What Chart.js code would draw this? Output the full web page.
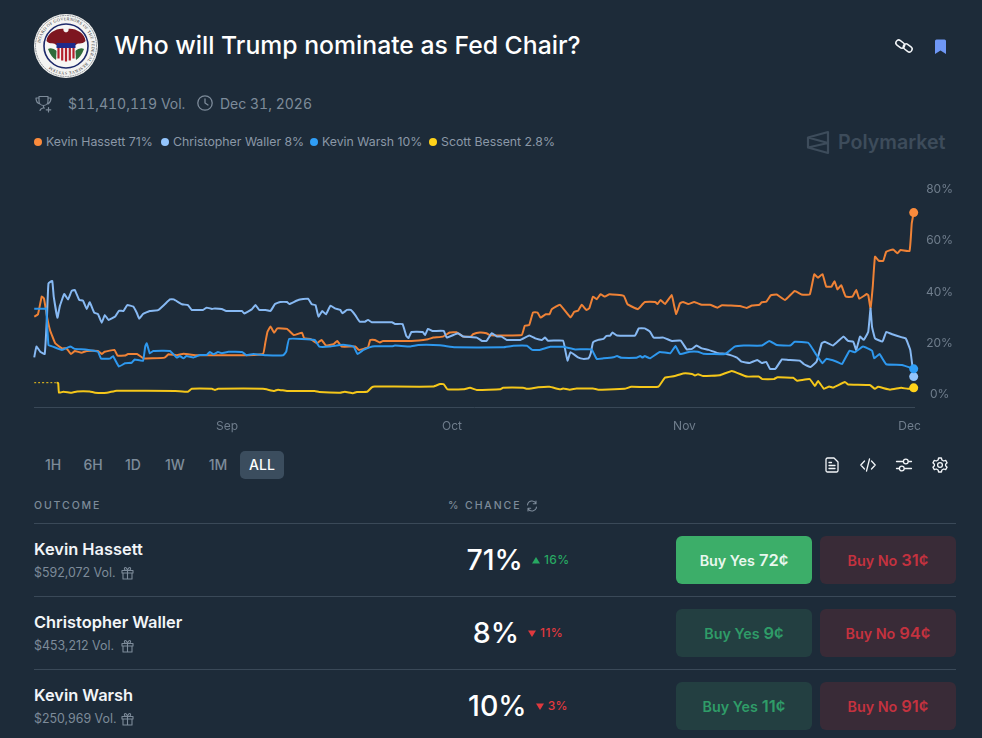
<!DOCTYPE html>
<html>
<head>
<meta charset="utf-8">
<title>Who will Trump nominate as Fed Chair?</title>
<script src="https://cdn.jsdelivr.net/npm/chart.js@4"></script>
<style>
  html, body { margin: 0; padding: 0; background: #1d2b39; }
  body { width: 982px; height: 738px; position: relative; overflow: hidden; font-family: Inter, "Noto Sans", sans-serif; color: #fff; }
  .abs { position: absolute; white-space: nowrap; line-height: 1; }
  svg.abs { overflow: visible; fill: none; stroke-linecap: round; stroke-linejoin: round; }
  #title { left: 114px; top: 33px; font-size: 24.75px; font-weight: 500; color: #fff; }
  .meta { top: 96.5px; font-size: 14px; color: #7d8b9a; font-variant-numeric: tabular-nums; font-feature-settings: "tnum"; }
  .legend { top: 135.5px; font-size: 12.3px; color: #8b98a7; }
  .dot { position: absolute; top: 138px; width: 8px; height: 8px; border-radius: 50%; }
  #brand { left: 838px; top: 132.5px; font-size: 19.6px; font-weight: 600; color: #3d4c5b; }
  #chartbox { position: absolute; left: 0; top: 150px; width: 982px; height: 290px; }
  .range { top: 458px; width: 40px; text-align: center; font-size: 14px; font-weight: 500; color: #7d8b9a; }
  #allbtn { position: absolute; left: 240px; top: 451px; width: 44px; height: 28px; border-radius: 5px; background: #3b4d5e; }
  .head { top: 500.5px; font-size: 10.5px; letter-spacing: 1.9px; font-weight: 500; color: #7d8b9a; }
  .rule { position: absolute; left: 34px; width: 922px; height: 1px; background: #3a4958; }
  .name { left: 34px; font-size: 16.4px; font-weight: 600; color: #f2f5f8; }
  .vol { left: 34px; font-size: 12.4px; color: #7d8b9a; }
  .pctgroup { position: absolute; left: 418px; width: 200px; height: 32px; display: flex; justify-content: center; align-items: center; gap: 9px; }
  .pct { font-size: 28.5px; font-weight: 500; color: #fff; line-height: 1; }
  .delta { font-size: 12px; font-weight: 500; letter-spacing: .4px; line-height: 1; }
  .btn { position: absolute; width: 136px; height: 48px; border-radius: 6px; display: flex; justify-content: center; align-items: center; gap: 4px; font-size: 14.3px; font-weight: 600; }
  .btn b { font-size: 16.5px; font-weight: 600; }
</style>
</head>
<body>

<svg class="abs" style="left:34px;top:14px" width="64" height="64" viewBox="0 0 64 64">
  <circle cx="32" cy="32" r="32" fill="#f4f4f2"/>
  <circle cx="32" cy="32" r="30.5" stroke="#8a8f96" stroke-width="1" stroke-dasharray="1 1.5"/>
  <defs><path id="ring" d="M32 32 m-25.8 0 a25.8 25.8 0 1 1 51.6 0 a25.8 25.8 0 1 1 -51.6 0"/></defs>
  <text font-size="4.3" font-family="Liberation Serif, serif" fill="#333" stroke="none" letter-spacing=".25"><textPath href="#ring" startOffset="3">BOARD OF GOVERNORS OF THE FEDERAL RESERVE SYSTEM</textPath></text>
  <circle cx="32" cy="32" r="22" fill="#f7f7f5" stroke="#1d2a6b" stroke-width="1.6"/>
  <path d="M12.5 27 C13 19 23 14 30 15 L32 19 L34 15 C41 14 51 19 51.5 27 C48 31 43 28 42 31 H22 C21 28 16 31 12.5 27Z" fill="#7d1620" stroke="none"/>
  <path d="M14 35 q3 8 8 11 l1 -9 q-5 -4 -9 -2Z M50 35 q-3 8 -8 11 l-1 -9 q5 -4 9 -2Z" fill="#2e6b3a" stroke="none"/>
  <rect x="22.5" y="29" width="19" height="5" fill="#1d2a8b" stroke="none"/>
  <path d="M22.5 34 H41.5 V43 Q32 50 22.5 43Z" fill="#f4f4f2" stroke="none"/>
  <path d="M24.5 34 V44.5 M28.2 34 V46.5 M32 34 V47.5 M35.8 34 V46.5 M39.5 34 V44.5" stroke="#b3202c" stroke-width="2.2" stroke-linecap="butt"/>
  <circle cx="32" cy="15.5" r="2.6" fill="#f4f4f2" stroke="none"/>
</svg>

<div id="title" class="abs">Who will Trump nominate as Fed Chair?</div>

<svg class="abs" style="left:896px;top:38px" width="16" height="16" viewBox="0 0 16 16" stroke="#f2f5f8" stroke-width="1.5">
  <rect x="-0.5" y="3.2" width="9.5" height="5.6" rx="2.8" transform="rotate(38 4.2 6)"/>
  <rect x="7" y="7.2" width="9.5" height="5.6" rx="2.8" transform="rotate(38 11.8 10)"/>
</svg>
<svg class="abs" style="left:934px;top:39px" width="13" height="16" viewBox="0 0 13 16">
  <path d="M1 2 a1.5 1.5 0 0 1 1.5 -1.5 h8 a1.5 1.5 0 0 1 1.5 1.5 V15 L6.5 11.5 L1 15Z" fill="#6f97f5"/>
</svg>

<svg class="abs" style="left:35px;top:95px" width="18" height="18" viewBox="0 0 18 18" stroke="#7d8b9a" stroke-width="1.2">
  <path d="M4 1.5 H13 V6 a4.5 4.5 0 0 1 -9 0Z M4 3 H1 q0 5 4 6 M13 3 H16 q0 4 -3 6 M8.5 10.5 V13 M5 15.5 q1 -2.5 3.5 -2.5 h1 M13.5 12.5 V17 M11.2 14.8 H15.8"/>
</svg>
<div class="abs meta" style="left:68px">$11,410,119 Vol.</div>
<svg class="abs" style="left:197px;top:95px" width="16" height="16" viewBox="0 0 16 16" stroke="#7d8b9a" stroke-width="1.3">
  <circle cx="8" cy="8" r="7.2"/><path d="M8 3.8 V8 L11 10"/>
</svg>
<div class="abs meta" style="left:220px">Dec 31, 2026</div>

<div id="legendbox"></div>

<svg class="abs" style="left:806px;top:130px" width="24" height="25" viewBox="0 0 24 25" stroke="#3d4c5b" stroke-width="2.2">
  <path d="M22 2 V23 L2 17.5 V7.5Z M2 7.5 L22 13 M2 17.5 L22 13"/>
</svg>
<div id="brand" class="abs">Polymarket</div>

<div id="chartbox"><canvas id="mycanvas" width="982" height="290"></canvas></div>

<div id="allbtn"></div>
<div id="rangebox"></div>

<svg class="abs" style="left:824px;top:457px" width="16" height="16" viewBox="0 0 16 16" stroke="#f2f5f8" stroke-width="1.3">
  <path d="M2 2.5 a1.5 1.5 0 0 1 1.5 -1.5 H10 L14 5 V13.5 a1.5 1.5 0 0 1 -1.5 1.5 H3.5 A1.5 1.5 0 0 1 2 13.5Z M5 5.5 H7.5 M5 8.5 H11 M5 11.5 H11"/>
</svg>
<svg class="abs" style="left:860px;top:458px" width="16" height="14" viewBox="0 0 16 14" stroke="#f2f5f8" stroke-width="1.3">
  <path d="M4.5 3 L0.8 7 L4.5 11 M11.5 3 L15.2 7 L11.5 11 M9.5 1 L6.5 13"/>
</svg>
<svg class="abs" style="left:896px;top:457px" width="16" height="16" viewBox="0 0 16 16" stroke="#f2f5f8" stroke-width="1.3">
  <path d="M0.5 4.5 H7 M12.5 4.5 H15.5 M0.5 11.5 H3 M8.5 11.5 H15.5"/>
  <circle cx="9.8" cy="4.5" r="2.4"/><circle cx="5.8" cy="11.5" r="2.4"/>
</svg>
<svg class="abs" style="left:932px;top:457px" width="16" height="16" viewBox="0 0 16 16" stroke="#f2f5f8" stroke-width="1.3">
  <path d="M6.6 1 H9.4 L9.9 3 L11.7 4 L13.7 3.4 L15.1 5.8 L13.6 7.2 V8.8 L15.1 10.2 L13.7 12.6 L11.7 12 L9.9 13 L9.4 15 H6.6 L6.1 13 L4.3 12 L2.3 12.6 L0.9 10.2 L2.4 8.8 V7.2 L0.9 5.8 L2.3 3.4 L4.3 4 L6.1 3 Z"/>
  <circle cx="8" cy="8" r="2.4"/>
</svg>

<div class="abs head" style="left:34px">OUTCOME</div>
<div class="abs head" style="left:448px">% CHANCE</div>
<svg class="abs" style="left:526px;top:500px" width="12" height="12" viewBox="0 0 12 12" stroke="#7d8b9a" stroke-width="1.1">
  <path d="M1.5 5 A4.5 4.5 0 0 1 10 3.5 M10.5 7 A4.5 4.5 0 0 1 2 8.5 M10 1 V3.8 H7.3 M2 11 V8.2 H4.7"/>
</svg>
<div class="rule" style="top:523px"></div>

<div id="rowbox"></div>

<script>
// legend + table
var outcomes = ["Kevin Hassett", "Christopher Waller", "Kevin Warsh", "Scott Bessent"];
var legendPct = ["71%", "8%", "10%", "2.8%"];
var legendLeft = [46, 173, 322, 441];
var colors = ["#ef8236", "#87b9f3", "#2e98ee", "#f5c71a"];
var dotColors = ["#fb8b3c", "#93c5fd", "#2f9ef7", "#ffd21a"];

var rangeLabels = ["1H", "6H", "1D", "1W", "1M", "ALL"];
var rangeCenters = [53, 93, 133, 175, 218, 262];

var rowNames = ["Kevin Hassett", "Christopher Waller", "Kevin Warsh"];
var rowVols = ["$592,072 Vol.", "$453,212 Vol.", "$250,969 Vol."];
var rowPct = ["71%", "8%", "10%"];
var rowDelta = ["16%", "11%", "3%"];
var rowUp = [true, false, false];
var rowYes = ["72¢", "9¢", "11¢"];
var rowNo = ["31¢", "94¢", "91¢"];

// chart data, x = days from Sep 1
var monthLabels = ["Sep", "Oct", "Nov", "Dec"];
var monthDays = [0, 30, 61, 91];
var yTicks = [0, 20, 40, 60, 80];

var hassettDays = [-25.7,-25.2,-24.7,-24.4,-24,-23.6,-22.9,-22,-21.4,-20.8,-20.3,-19.4,-18.7,-17.2,-16.7,-16.3,-15,-14.6,-13.6,-13.2,-12,-11.1,-10,-8.3,-7.8,-6.7,-5.8,-4,-1.8,2,4.8,5.1,5.4,5.8,6.3,6.7,8,8.9,10,10.3,11.1,12,12.6,13.2,14.2,14.7,15.3,17.1,17.6,18.8,19.1,19.7,20.4,20.8,24.6,26.8,27.5,28.8,29.7,30.6,31.5,32.5,32.8,33.7,34.6,35.1,39.3,39.7,40.3,40.8,41.4,41.8,42.5,43,43.3,44.4,45.8,46.3,46.8,47.3,47.9,48.3,48.8,49.3,49.8,50.4,51,52.9,53.4,54.8,55.4,55.7,57.1,57.4,57.8,58.4,59.3,59.6,59.9,60.4,60.8,61.5,62.3,63.3,64.4,65.4,66,68.4,69.3,70,71,71.3,71.9,72.5,73.3,74.4,75.7,76.6,77.7,78.3,78.8,79.4,79.9,80.6,81,81.4,81.9,82.5,83.4,83.9,84.3,85.3,85.5,85.8,86.1,86.4,86.9,87.5,87.9,88.8,89.4,89.8,91,91.3,91.56];
var hassettVals = [30.4,31.3,38.2,37.5,30.4,25.2,20,18,18,15.8,17,16.3,17,17,15.8,16.7,17.4,15.2,15.2,15.8,15.8,14.1,14.1,14.4,15.7,15.3,15.9,15.3,15.3,15.3,15.8,20,24.5,26.5,24.1,25.8,25.6,23.2,24.1,21.9,21.7,20,21.3,19.1,19.6,20.9,18.7,18.7,17.4,18.4,21.3,21.3,20.3,20.9,20.9,21.6,22.2,22.6,24.2,24.3,22.6,22.6,23.5,24.2,23.9,23.1,23.2,26.8,27.1,32,32,30,31.3,31.3,33.3,35,30.1,32.3,32.7,35,33,33.6,38.2,37.2,39.1,38.2,39.1,38.5,35.2,33.3,35.2,36.1,36.1,35.3,36.9,35.3,38.8,34.9,31.4,35.6,36.1,35.3,36.1,35,35,33.9,34.8,34.5,33.8,34.7,35,36,36.2,38.7,39,36.9,40.4,39,39,46.9,45.6,47,42.1,42.1,44.2,41,42.6,38.2,38.2,40.8,37.4,39.2,38.8,33.6,42.1,53.8,52.2,52.2,55.7,56.6,55.1,56.4,56,66.8,71];

var wallerDays = [-25.7,-25.4,-24.9,-24.3,-24,-23.8,-23.3,-23.1,-22.6,-22.3,-21.7,-21.2,-20.7,-20.3,-19.7,-19.2,-18.7,-18.3,-17.7,-17.2,-16.7,-16.3,-15.8,-14.9,-14.4,-13.8,-13.3,-12.5,-12,-11.7,-11.2,-10.3,-9.2,-8.3,-7.6,-7.1,-6,-5.2,-4.7,-3.2,-2.7,-2,-1.6,-0.7,-0.1,2,2.3,3.3,3.8,4.3,5.1,5.8,6.4,7.1,8,8.3,9.5,10.8,11.3,11.8,12.2,12.7,13.2,13.8,14.4,15.1,15.4,16,16.5,17.1,17.7,18.4,18.8,19.3,22,22.4,23.4,23.9,24.2,24.6,26.1,26.4,26.8,27.4,28.9,29.3,30.8,31.5,33.3,34,34.6,35.3,36,36.6,37.3,39.1,40.3,41.1,42,42.4,42.8,44.8,45.1,45.4,45.8,46.8,47.5,48.2,48.5,48.8,49.5,50.2,50.6,51.1,51.4,52,54.4,54.9,55.7,56.4,56.9,58.2,59.3,60.5,61.3,62,62.6,63.3,64.2,65.5,66.6,68,68.6,69.7,70.7,71.3,71.9,72.4,73.1,74,74.8,76.4,76.9,77.8,78.6,79.3,79.7,80.8,82.2,82.8,83.5,83.9,84.4,84.9,85.5,85.8,86,86.4,87.4,87.9,88.6,90,90.5,91.1,91.56];
var wallerVals = [14.5,18.7,16.7,15.8,30.4,43.4,44.3,38.2,30,34.3,39.2,37.1,40.5,40.8,36.9,36.6,33.4,36,31.9,31.4,28,31,29.1,30.4,32.7,32.6,34.9,34.3,31.7,29.6,31.4,32.6,32.9,35.2,37.1,37.1,35.2,34.9,33,33,33.9,33.4,33.6,33.4,32.6,32.6,31.6,33.2,34.9,33,33,32.6,35.3,36.1,36.1,35.3,36.9,37.4,35.2,34.9,30.4,32.6,31.3,34.7,33.6,33,31.7,33,33,31,28.4,28.4,29.1,28.2,28.2,27.5,27.5,22.9,22,24.4,24.4,23.2,25.6,24.8,24.8,22.2,23.9,22.6,22.2,20.9,20.9,23.9,22.6,22.6,21.3,21.3,23,21.9,21.3,22.2,21,21,17.4,13.2,16.5,14.5,13.9,14.1,16.1,20.3,21.3,21.7,22.9,23,24.2,23,23,25.8,25.8,24.5,22.2,22.2,20.9,21,17.6,17.8,19.1,18,17.4,16.1,15.8,14.4,12.8,12.3,13.5,12.3,12.7,10,10,13.7,13.5,13.2,11.9,10.7,12.8,20,20.6,19.1,22.6,20.9,20.6,17.4,22.6,21.3,24.5,33.6,26.5,21.9,20.7,24.4,23.6,22.3,21.9,17.4,7];

var warshDays = [-25.7,-24.3,-24.1,-23.8,-23.2,-22,-20.9,-20.3,-18.9,-17.2,-16.8,-15.6,-15.2,-14.4,-13.6,-12.7,-12.3,-11.2,-10.9,-10.7,-10.3,-9.8,-7.6,-6.7,-6.3,-5.8,-5.4,-4.5,-3.6,-2.7,-2.3,-1.8,-1.2,-0.7,0.2,2,2.6,3.5,5.3,7.5,7.9,8.3,11.7,12.3,13.7,15.5,16.9,17.4,18.2,19,19.7,22,22.4,24.4,25.5,28.4,30.4,36.8,38.2,40,40.7,41.7,43.1,44.8,46.4,48.6,49.3,50.2,51.5,52,52.6,54.6,55.1,55.4,55.7,56.4,57.7,59.1,59.8,60.4,61.7,62.8,63.5,66.4,67.7,68.9,71.3,72.3,73.3,75.1,75.7,77.5,78.6,79.4,79.9,81.3,82,83,83.7,84.8,86,86.3,87,87.9,90,91.56];
var warshVals = [33.5,33.5,33.6,19.3,18.7,17.4,18.7,17.8,17.6,16.7,14,14,15,10.9,12.2,12.4,13.7,13.1,18.7,20,16.1,17,17,14.4,15,14.1,15,14.4,15.4,15.4,16.6,15.7,16.6,16.1,16.7,16.6,15.3,15.8,15.3,15.3,16.7,21.7,21.3,18.7,18.7,19.4,18.7,15.8,17.4,18.4,18.8,18.8,19.1,18.7,19.3,19.2,18.4,18.4,19,19,17.4,17.4,18.6,18.6,17.6,17.6,13.9,14.1,14.5,15,14.3,14.3,15,14.4,15,14.1,16.6,16.1,18.9,15.8,16.7,16.7,15.9,15.8,18.7,19.1,19.1,20.9,19.3,19.1,20.6,20.2,15.4,12.2,13.9,12.8,11.9,17.1,16.5,18.7,17.1,14.1,15.8,11.8,11.5,10];

var bessentDays = [-25.7,-22.7,-22.5,-22.4,-21.8,-20.7,-20,-18.3,-17.6,-16,-14.7,-6.9,-5.2,-4.7,-2,-1.6,-1.2,4.8,6.3,6.8,8,11.7,12.3,15.1,15.7,16.8,17.3,18.7,19.3,19.7,27.5,28.4,28.9,29.4,31.5,32.4,33.3,36.4,36.8,39.5,40,41.5,43,44.4,44.8,45.7,46.6,48.8,49.5,53,53.9,57.5,58.4,59.7,60.8,62,62.4,62.8,63.5,65.7,67.3,69.3,70.9,71.4,72.9,73.4,75.5,76,77.7,78.4,78.8,79.6,80.3,80.8,82.4,82.8,85.7,86.4,86.8,88.4,89.9,90.8,91.56];
var bessentVals = [4.6,4.6,4.4,0.7,1.1,0.7,1.2,1.2,0.7,0.7,1.5,1.4,1.1,2.2,2.2,1.8,2.2,2.2,1.4,1.9,1.4,1.4,1,0.7,1.1,0.5,1,1.1,2.8,3.1,3.1,4.1,4,2,2,2.6,1.8,2,2.6,2.6,2.2,2.8,3,2,2.3,1.9,2.3,2.3,1.9,2.2,3,3,6.6,7.2,8.2,8,7.4,7.9,7.2,7.5,9.2,7,7,6,6,6.7,6.5,5.4,6,3.3,5.3,2.2,3.1,2.7,4.9,3.9,3.7,2.2,3,1.9,2.6,2.2,2.6];

var seriesDays = [hassettDays, wallerDays, warshDays, bessentDays];
var seriesVals = [hassettVals, wallerVals, warshVals, bessentVals];

function pairs(days, vals) {
  var out = [];
  for (var i in days) {
    out.push({ x: days[i], y: vals[i] });
  }
  return out;
}

function addText(parent, cls, left, top, text, color) {
  var d = document.createElement("div");
  d.className = "abs " + cls;
  d.style.left = left + "px";
  if (top !== null) d.style.top = top + "px";
  if (color) d.style.color = color;
  d.textContent = text;
  parent.appendChild(d);
  return d;
}

// header legend
var legendBox = document.getElementById("legendbox");
for (var i in outcomes) {
  var dot = document.createElement("div");
  dot.className = "dot";
  dot.style.left = (legendLeft[i] - 12) + "px";
  dot.style.background = dotColors[i];
  legendBox.appendChild(dot);
  addText(legendBox, "legend", legendLeft[i], null, outcomes[i] + " " + legendPct[i]);
}

// range buttons
var rangeBox = document.getElementById("rangebox");
for (var i in rangeLabels) {
  var r = addText(rangeBox, "range", rangeCenters[i] - 20, null, rangeLabels[i], rangeLabels[i] == "ALL" ? "#ffffff" : null);
}

// outcome rows
var rowBox = document.getElementById("rowbox");
var giftIcon = '<path d="M1 4.5 H12 V7 H1Z M2 7 V13 H11 V7 M6.5 4.5 V13 M6.5 4.5 C4 4.5 3 3.5 3.5 2 C4.5 .5 6 2.5 6.5 4.5 C7 2.5 8.5 .5 9.5 2 C10 3.5 9 4.5 6.5 4.5"/>';
for (var i in rowNames) {
  var y = 523 + 73 * i;
  addText(rowBox, "name", 34, y + 18, rowNames[i]);
  var v = addText(rowBox, "vol", 34, y + 44, rowVols[i]);
  var g = document.createElementNS("http://www.w3.org/2000/svg", "svg");
  g.setAttribute("class", "abs");
  g.setAttribute("viewBox", "0 0 13 14");
  g.setAttribute("width", "13");
  g.setAttribute("height", "14");
  g.setAttribute("stroke", "#7d8b9a");
  g.setAttribute("stroke-width", "1.1");
  g.style.left = "121px";
  g.style.top = (y + 43) + "px";
  g.innerHTML = giftIcon;
  rowBox.appendChild(g);

  var group = document.createElement("div");
  group.className = "pctgroup";
  group.style.top = (y + 21) + "px";
  var dColor = rowUp[i] ? "#27a862" : "#e0393e";
  var arrow = rowUp[i] ? "M4 0 L8 6.5 H0Z" : "M0 0.5 H8 L4 7Z";
  group.innerHTML = '<span class="pct">' + rowPct[i] + '</span>' +
    '<span class="delta" style="color:' + dColor + '">' +
    '<svg width="8" height="7" viewBox="0 0 8 7" style="margin-right:4px"><path d="' + arrow + '" fill="' + dColor + '"/></svg>' +
    rowDelta[i] + '</span>';
  rowBox.appendChild(group);

  var yes = document.createElement("div");
  yes.className = "btn";
  yes.style.left = "676px";
  yes.style.top = (y + 13) + "px";
  yes.style.background = i == 0 ? "#3cae69" : "#233f41";
  yes.style.color = i == 0 ? "#e9f7ee" : "#2f9c68";
  yes.innerHTML = "Buy Yes <b>" + rowYes[i] + "</b>";
  rowBox.appendChild(yes);

  var no = document.createElement("div");
  no.className = "btn";
  no.style.left = "820px";
  no.style.top = (y + 13) + "px";
  no.style.background = "#392b37";
  no.style.color = "#c4323f";
  no.innerHTML = "Buy No <b>" + rowNo[i] + "</b>";
  rowBox.appendChild(no);

  if (i < 2) {
    var rule = document.createElement("div");
    rule.className = "rule";
    rule.style.top = (y + 73) + "px";
    rowBox.appendChild(rule);
  }
}

// line chart
var datasets = [];
for (var i in outcomes) {
  (function (i) {
    datasets.push({
      label: outcomes[i],
      data: pairs(seriesDays[i], seriesVals[i]),
      borderColor: colors[i],
      backgroundColor: dotColors[i],
      borderWidth: 2,
      lineTension: 0.1,
      borderJoinStyle: "round",
      order: 4 - i,
      clip: false,
      pointBorderWidth: 0,
      pointRadius: function (ctx) {
        return ctx.dataIndex == seriesDays[i].length - 1 ? 4.5 : 0;
      },
      segment: i == 3 ? {
        borderDash: function (ctx) { return ctx.p1.parsed.x <= -22.7 ? [2, 2] : undefined; },
        borderWidth: function (ctx) { return ctx.p1.parsed.x <= -22.7 ? 1 : undefined; }
      } : undefined
    });
  })(Number(i));
}

var ctx = document.getElementById("mycanvas");
var LineGraph = new Chart(ctx, {
  type: "line",
  data: { datasets: datasets },
  options: {
    responsive: false,
    animation: false,
    events: [],
    layout: { padding: { left: 34, right: 22, top: 25, bottom: 0 } },
    plugins: { legend: { display: false }, tooltip: { enabled: false } },
    scales: {
      x: {
        type: "linear",
        min: -25.73,
        max: 91.6,
        grid: { display: false, drawTicks: false },
        border: { display: true, color: "#394857", width: 1 },
        afterBuildTicks: function (axis) {
          axis.ticks = monthDays.map(function (d) { return { value: d }; });
        },
        afterFit: function (axis) { axis.height = 33; },
        ticks: {
          autoSkip: false,
          maxRotation: 0,
          padding: 12,
          color: "#6f7d8c",
          font: { family: "Inter", size: 12 },
          callback: function (value) { return monthLabels[monthDays.indexOf(value)]; }
        }
      },
      y: {
        position: "right",
        min: -4.88,
        max: 85.66,
        grid: { display: false, drawTicks: false },
        border: { display: false },
        afterBuildTicks: function (axis) {
          axis.ticks = yTicks.map(function (v) { return { value: v }; });
        },
        afterFit: function (axis) { axis.width = 46; },
        ticks: {
          autoSkip: false,
          padding: 12,
          crossAlign: "center",
          color: "#6f7d8c",
          font: { family: "Inter", size: 12 },
          callback: function (value) { return value + "%"; }
        }
      }
    }
  }
});
</script>
</body>
</html>
